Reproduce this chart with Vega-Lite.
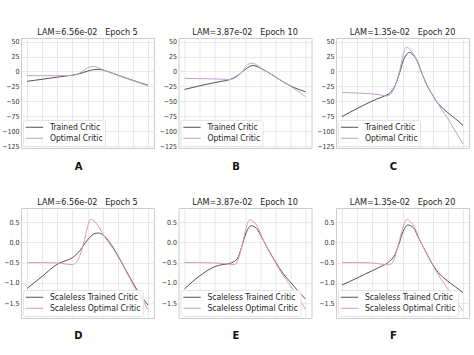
{
  "$schema": "https://vega.github.io/schema/vega-lite/v6.json",
  "background": "white",
  "padding": {"left": 1, "top": 27, "right": 0, "bottom": 0},
  "config": {
    "font": "DejaVu Sans Condensed, DejaVu Sans",
    "view": {"stroke": "#cccccc", "strokeWidth": 1},
    "axis": {"gridColor": "#e3e3e3", "gridWidth": 0.8, "domain": false, "ticks": false, "labelFontSize": 7, "labelColor": "#333333", "labelPadding": 2, "labelFont": "DejaVu Sans Condensed, DejaVu Sans"},
    "title": {"fontSize": 9, "fontWeight": "normal", "color": "#222222", "offset": 1, "font": "DejaVu Sans Condensed, DejaVu Sans"},
    "legend": {"labelFontSize": 8.5, "labelFont": "DejaVu Sans Condensed, DejaVu Sans", "symbolType": "stroke", "symbolStrokeWidth": 1, "symbolSize": 300, "padding": 2, "strokeColor": "#e4e4e4", "fillColor": "rgba(255,255,255,0.8)", "cornerRadius": 2, "rowPadding": 0, "offset": 2, "labelColor": "#222222", "labelOffset": 6, "clipHeight": 10.5}
  },
  "datasets": {
    "d": [
      {"p":"A","s":"Trained Critic","x":0,"y":-16.5},{"p":"A","s":"Trained Critic","x":0.5,"y":-14.8},{"p":"A","s":"Trained Critic","x":1,"y":-13},{"p":"A","s":"Trained Critic","x":1.5,"y":-11.2},{"p":"A","s":"Trained Critic","x":2,"y":-9.5},{"p":"A","s":"Trained Critic","x":2.5,"y":-7.8},{"p":"A","s":"Trained Critic","x":3,"y":-6.2},{"p":"A","s":"Trained Critic","x":3.5,"y":-3.5},{"p":"A","s":"Trained Critic","x":4,"y":0.5},{"p":"A","s":"Trained Critic","x":4.4,"y":3},{"p":"A","s":"Trained Critic","x":4.75,"y":3.5},{"p":"A","s":"Trained Critic","x":5,"y":2.5},{"p":"A","s":"Trained Critic","x":5.5,"y":-1.5},{"p":"A","s":"Trained Critic","x":6,"y":-6},{"p":"A","s":"Trained Critic","x":6.5,"y":-10.5},{"p":"A","s":"Trained Critic","x":7,"y":-14.8},{"p":"A","s":"Trained Critic","x":7.5,"y":-19},{"p":"A","s":"Trained Critic","x":8,"y":-23},
      {"p":"A","s":"Optimal Critic","x":0,"y":-7},{"p":"A","s":"Optimal Critic","x":1,"y":-7},{"p":"A","s":"Optimal Critic","x":2,"y":-7},{"p":"A","s":"Optimal Critic","x":2.5,"y":-7},{"p":"A","s":"Optimal Critic","x":3,"y":-6.5},{"p":"A","s":"Optimal Critic","x":3.5,"y":-2.5},{"p":"A","s":"Optimal Critic","x":3.8,"y":2.5},{"p":"A","s":"Optimal Critic","x":4.1,"y":7},{"p":"A","s":"Optimal Critic","x":4.4,"y":8.5},{"p":"A","s":"Optimal Critic","x":4.7,"y":6.5},{"p":"A","s":"Optimal Critic","x":5,"y":3},{"p":"A","s":"Optimal Critic","x":5.5,"y":-1.5},{"p":"A","s":"Optimal Critic","x":6,"y":-6.3},{"p":"A","s":"Optimal Critic","x":6.5,"y":-10.8},{"p":"A","s":"Optimal Critic","x":7,"y":-15.2},{"p":"A","s":"Optimal Critic","x":7.5,"y":-19.5},{"p":"A","s":"Optimal Critic","x":8,"y":-24},
      {"p":"B","s":"Trained Critic","x":0,"y":-30},{"p":"B","s":"Trained Critic","x":0.5,"y":-27},{"p":"B","s":"Trained Critic","x":1,"y":-24},{"p":"B","s":"Trained Critic","x":1.5,"y":-21.2},{"p":"B","s":"Trained Critic","x":2,"y":-18.6},{"p":"B","s":"Trained Critic","x":2.5,"y":-16.2},{"p":"B","s":"Trained Critic","x":3,"y":-13.5},{"p":"B","s":"Trained Critic","x":3.5,"y":-7},{"p":"B","s":"Trained Critic","x":3.8,"y":-1},{"p":"B","s":"Trained Critic","x":4.1,"y":5},{"p":"B","s":"Trained Critic","x":4.5,"y":10},{"p":"B","s":"Trained Critic","x":4.8,"y":8.5},{"p":"B","s":"Trained Critic","x":5,"y":6},{"p":"B","s":"Trained Critic","x":5.5,"y":-1},{"p":"B","s":"Trained Critic","x":6,"y":-9},{"p":"B","s":"Trained Critic","x":6.5,"y":-17},{"p":"B","s":"Trained Critic","x":7,"y":-24},{"p":"B","s":"Trained Critic","x":7.5,"y":-29.5},{"p":"B","s":"Trained Critic","x":8,"y":-34},
      {"p":"B","s":"Optimal Critic","x":0,"y":-11.5},{"p":"B","s":"Optimal Critic","x":1,"y":-12},{"p":"B","s":"Optimal Critic","x":2,"y":-12.5},{"p":"B","s":"Optimal Critic","x":2.5,"y":-13},{"p":"B","s":"Optimal Critic","x":3,"y":-13.5},{"p":"B","s":"Optimal Critic","x":3.5,"y":-8},{"p":"B","s":"Optimal Critic","x":3.8,"y":-1},{"p":"B","s":"Optimal Critic","x":4.1,"y":9},{"p":"B","s":"Optimal Critic","x":4.4,"y":14},{"p":"B","s":"Optimal Critic","x":4.7,"y":12},{"p":"B","s":"Optimal Critic","x":5,"y":6.5},{"p":"B","s":"Optimal Critic","x":5.5,"y":-1},{"p":"B","s":"Optimal Critic","x":6,"y":-9},{"p":"B","s":"Optimal Critic","x":6.5,"y":-17},{"p":"B","s":"Optimal Critic","x":7,"y":-24.5},{"p":"B","s":"Optimal Critic","x":7.5,"y":-33},{"p":"B","s":"Optimal Critic","x":8,"y":-42},
      {"p":"C","s":"Trained Critic","x":0,"y":-75.5},{"p":"C","s":"Trained Critic","x":0.5,"y":-68.5},{"p":"C","s":"Trained Critic","x":1,"y":-62},{"p":"C","s":"Trained Critic","x":1.5,"y":-55.5},{"p":"C","s":"Trained Critic","x":2,"y":-49.5},{"p":"C","s":"Trained Critic","x":2.5,"y":-44},{"p":"C","s":"Trained Critic","x":2.9,"y":-40},{"p":"C","s":"Trained Critic","x":3.2,"y":-35},{"p":"C","s":"Trained Critic","x":3.5,"y":-24},{"p":"C","s":"Trained Critic","x":3.8,"y":-3},{"p":"C","s":"Trained Critic","x":4.05,"y":18},{"p":"C","s":"Trained Critic","x":4.25,"y":28},{"p":"C","s":"Trained Critic","x":4.45,"y":32},{"p":"C","s":"Trained Critic","x":4.7,"y":28},{"p":"C","s":"Trained Critic","x":5,"y":16},{"p":"C","s":"Trained Critic","x":5.3,"y":-4},{"p":"C","s":"Trained Critic","x":5.6,"y":-22},{"p":"C","s":"Trained Critic","x":6,"y":-40},{"p":"C","s":"Trained Critic","x":6.3,"y":-52},{"p":"C","s":"Trained Critic","x":6.6,"y":-60},{"p":"C","s":"Trained Critic","x":7,"y":-69},{"p":"C","s":"Trained Critic","x":7.5,"y":-79},{"p":"C","s":"Trained Critic","x":8,"y":-90},
      {"p":"C","s":"Optimal Critic","x":0,"y":-35},{"p":"C","s":"Optimal Critic","x":1,"y":-36},{"p":"C","s":"Optimal Critic","x":2,"y":-37.5},{"p":"C","s":"Optimal Critic","x":2.5,"y":-39},{"p":"C","s":"Optimal Critic","x":2.9,"y":-41},{"p":"C","s":"Optimal Critic","x":3.2,"y":-38},{"p":"C","s":"Optimal Critic","x":3.5,"y":-25},{"p":"C","s":"Optimal Critic","x":3.8,"y":0},{"p":"C","s":"Optimal Critic","x":4.05,"y":28},{"p":"C","s":"Optimal Critic","x":4.25,"y":41},{"p":"C","s":"Optimal Critic","x":4.45,"y":38},{"p":"C","s":"Optimal Critic","x":4.7,"y":30},{"p":"C","s":"Optimal Critic","x":5,"y":16},{"p":"C","s":"Optimal Critic","x":5.3,"y":-4},{"p":"C","s":"Optimal Critic","x":5.6,"y":-22},{"p":"C","s":"Optimal Critic","x":6,"y":-40},{"p":"C","s":"Optimal Critic","x":6.3,"y":-52},{"p":"C","s":"Optimal Critic","x":6.6,"y":-64},{"p":"C","s":"Optimal Critic","x":7,"y":-79},{"p":"C","s":"Optimal Critic","x":7.5,"y":-100},{"p":"C","s":"Optimal Critic","x":8,"y":-121},
      {"p":"D","s":"Scaleless Trained Critic","x":0,"y":-1.14},{"p":"D","s":"Scaleless Trained Critic","x":0.5,"y":-0.99},{"p":"D","s":"Scaleless Trained Critic","x":1,"y":-0.84},{"p":"D","s":"Scaleless Trained Critic","x":1.5,"y":-0.68},{"p":"D","s":"Scaleless Trained Critic","x":2,"y":-0.54},{"p":"D","s":"Scaleless Trained Critic","x":2.5,"y":-0.46},{"p":"D","s":"Scaleless Trained Critic","x":3,"y":-0.38},{"p":"D","s":"Scaleless Trained Critic","x":3.5,"y":-0.2},{"p":"D","s":"Scaleless Trained Critic","x":4,"y":0.06},{"p":"D","s":"Scaleless Trained Critic","x":4.5,"y":0.22},{"p":"D","s":"Scaleless Trained Critic","x":4.75,"y":0.23},{"p":"D","s":"Scaleless Trained Critic","x":5,"y":0.19},{"p":"D","s":"Scaleless Trained Critic","x":5.5,"y":-0.02},{"p":"D","s":"Scaleless Trained Critic","x":6,"y":-0.32},{"p":"D","s":"Scaleless Trained Critic","x":6.5,"y":-0.66},{"p":"D","s":"Scaleless Trained Critic","x":7,"y":-1.0},{"p":"D","s":"Scaleless Trained Critic","x":7.5,"y":-1.3},{"p":"D","s":"Scaleless Trained Critic","x":8,"y":-1.55},
      {"p":"D","s":"Scaleless Optimal Critic","x":0,"y":-0.5},{"p":"D","s":"Scaleless Optimal Critic","x":1,"y":-0.5},{"p":"D","s":"Scaleless Optimal Critic","x":2,"y":-0.51},{"p":"D","s":"Scaleless Optimal Critic","x":2.5,"y":-0.53},{"p":"D","s":"Scaleless Optimal Critic","x":3,"y":-0.55},{"p":"D","s":"Scaleless Optimal Critic","x":3.25,"y":-0.5},{"p":"D","s":"Scaleless Optimal Critic","x":3.5,"y":-0.32},{"p":"D","s":"Scaleless Optimal Critic","x":3.75,"y":-0.02},{"p":"D","s":"Scaleless Optimal Critic","x":4,"y":0.38},{"p":"D","s":"Scaleless Optimal Critic","x":4.2,"y":0.57},{"p":"D","s":"Scaleless Optimal Critic","x":4.5,"y":0.5},{"p":"D","s":"Scaleless Optimal Critic","x":4.8,"y":0.36},{"p":"D","s":"Scaleless Optimal Critic","x":5.1,"y":0.15},{"p":"D","s":"Scaleless Optimal Critic","x":5.5,"y":-0.05},{"p":"D","s":"Scaleless Optimal Critic","x":6,"y":-0.34},{"p":"D","s":"Scaleless Optimal Critic","x":6.5,"y":-0.68},{"p":"D","s":"Scaleless Optimal Critic","x":7,"y":-1.03},{"p":"D","s":"Scaleless Optimal Critic","x":7.5,"y":-1.35},{"p":"D","s":"Scaleless Optimal Critic","x":8,"y":-1.66},
      {"p":"E","s":"Scaleless Trained Critic","x":0,"y":-1.15},{"p":"E","s":"Scaleless Trained Critic","x":0.5,"y":-0.98},{"p":"E","s":"Scaleless Trained Critic","x":1,"y":-0.83},{"p":"E","s":"Scaleless Trained Critic","x":1.5,"y":-0.7},{"p":"E","s":"Scaleless Trained Critic","x":2,"y":-0.6},{"p":"E","s":"Scaleless Trained Critic","x":2.5,"y":-0.55},{"p":"E","s":"Scaleless Trained Critic","x":3,"y":-0.52},{"p":"E","s":"Scaleless Trained Critic","x":3.5,"y":-0.4},{"p":"E","s":"Scaleless Trained Critic","x":3.75,"y":-0.15},{"p":"E","s":"Scaleless Trained Critic","x":4,"y":0.16},{"p":"E","s":"Scaleless Trained Critic","x":4.4,"y":0.41},{"p":"E","s":"Scaleless Trained Critic","x":4.75,"y":0.35},{"p":"E","s":"Scaleless Trained Critic","x":5,"y":0.2},{"p":"E","s":"Scaleless Trained Critic","x":5.5,"y":-0.15},{"p":"E","s":"Scaleless Trained Critic","x":6,"y":-0.47},{"p":"E","s":"Scaleless Trained Critic","x":6.5,"y":-0.76},{"p":"E","s":"Scaleless Trained Critic","x":7,"y":-0.98},{"p":"E","s":"Scaleless Trained Critic","x":7.5,"y":-1.2},{"p":"E","s":"Scaleless Trained Critic","x":8,"y":-1.4},
      {"p":"E","s":"Scaleless Optimal Critic","x":0,"y":-0.5},{"p":"E","s":"Scaleless Optimal Critic","x":1,"y":-0.5},{"p":"E","s":"Scaleless Optimal Critic","x":2,"y":-0.51},{"p":"E","s":"Scaleless Optimal Critic","x":3,"y":-0.54},{"p":"E","s":"Scaleless Optimal Critic","x":3.3,"y":-0.55},{"p":"E","s":"Scaleless Optimal Critic","x":3.55,"y":-0.42},{"p":"E","s":"Scaleless Optimal Critic","x":3.8,"y":-0.08},{"p":"E","s":"Scaleless Optimal Critic","x":4.05,"y":0.32},{"p":"E","s":"Scaleless Optimal Critic","x":4.3,"y":0.56},{"p":"E","s":"Scaleless Optimal Critic","x":4.5,"y":0.53},{"p":"E","s":"Scaleless Optimal Critic","x":4.8,"y":0.4},{"p":"E","s":"Scaleless Optimal Critic","x":5.1,"y":0.15},{"p":"E","s":"Scaleless Optimal Critic","x":5.5,"y":-0.16},{"p":"E","s":"Scaleless Optimal Critic","x":6,"y":-0.49},{"p":"E","s":"Scaleless Optimal Critic","x":6.5,"y":-0.8},{"p":"E","s":"Scaleless Optimal Critic","x":7,"y":-1.07},{"p":"E","s":"Scaleless Optimal Critic","x":7.5,"y":-1.34},{"p":"E","s":"Scaleless Optimal Critic","x":8,"y":-1.66},
      {"p":"F","s":"Scaleless Trained Critic","x":0,"y":-1.05},{"p":"F","s":"Scaleless Trained Critic","x":0.5,"y":-0.97},{"p":"F","s":"Scaleless Trained Critic","x":1,"y":-0.88},{"p":"F","s":"Scaleless Trained Critic","x":1.5,"y":-0.79},{"p":"F","s":"Scaleless Trained Critic","x":2,"y":-0.7},{"p":"F","s":"Scaleless Trained Critic","x":2.5,"y":-0.61},{"p":"F","s":"Scaleless Trained Critic","x":3,"y":-0.51},{"p":"F","s":"Scaleless Trained Critic","x":3.5,"y":-0.3},{"p":"F","s":"Scaleless Trained Critic","x":3.75,"y":-0.06},{"p":"F","s":"Scaleless Trained Critic","x":4,"y":0.23},{"p":"F","s":"Scaleless Trained Critic","x":4.35,"y":0.43},{"p":"F","s":"Scaleless Trained Critic","x":4.75,"y":0.35},{"p":"F","s":"Scaleless Trained Critic","x":5,"y":0.16},{"p":"F","s":"Scaleless Trained Critic","x":5.5,"y":-0.2},{"p":"F","s":"Scaleless Trained Critic","x":6,"y":-0.55},{"p":"F","s":"Scaleless Trained Critic","x":6.5,"y":-0.8},{"p":"F","s":"Scaleless Trained Critic","x":7,"y":-0.96},{"p":"F","s":"Scaleless Trained Critic","x":7.5,"y":-1.1},{"p":"F","s":"Scaleless Trained Critic","x":8,"y":-1.24},
      {"p":"F","s":"Scaleless Optimal Critic","x":0,"y":-0.5},{"p":"F","s":"Scaleless Optimal Critic","x":1,"y":-0.5},{"p":"F","s":"Scaleless Optimal Critic","x":2,"y":-0.51},{"p":"F","s":"Scaleless Optimal Critic","x":3,"y":-0.55},{"p":"F","s":"Scaleless Optimal Critic","x":3.2,"y":-0.54},{"p":"F","s":"Scaleless Optimal Critic","x":3.5,"y":-0.36},{"p":"F","s":"Scaleless Optimal Critic","x":3.75,"y":-0.02},{"p":"F","s":"Scaleless Optimal Critic","x":4,"y":0.34},{"p":"F","s":"Scaleless Optimal Critic","x":4.3,"y":0.57},{"p":"F","s":"Scaleless Optimal Critic","x":4.5,"y":0.52},{"p":"F","s":"Scaleless Optimal Critic","x":4.8,"y":0.37},{"p":"F","s":"Scaleless Optimal Critic","x":5.1,"y":0.1},{"p":"F","s":"Scaleless Optimal Critic","x":5.5,"y":-0.21},{"p":"F","s":"Scaleless Optimal Critic","x":6,"y":-0.57},{"p":"F","s":"Scaleless Optimal Critic","x":6.5,"y":-0.88},{"p":"F","s":"Scaleless Optimal Critic","x":7,"y":-1.15},{"p":"F","s":"Scaleless Optimal Critic","x":7.5,"y":-1.42},{"p":"F","s":"Scaleless Optimal Critic","x":8,"y":-1.7}
    ]
  },
  "data": {"name": "d"},
  "columns": 3,
  "spacing": {"row": 60, "column": 24.5},
  "bounds": "flush",
  "resolve": {"scale": {"x": "independent", "y": "independent", "color": "independent"}, "axis": {"x": "independent", "y": "independent"}, "legend": {"color": "independent"}},
  "concat": [
    {
      "width": 133, "height": 110,
      "title": "LAM=6.56e-02\u00a0\u00a0\u00a0Epoch 5",
      "transform": [{"filter": "datum.p == 'A'"}],
      "mark": {"type": "line", "strokeWidth": 1, "interpolate": "monotone"},
      "encoding": {
        "x": {"field": "x", "type": "quantitative", "scale": {"domain": [-0.4, 8.4], "nice": false, "zero": false}, "axis": {"title": "A", "labels": false, "values": [0,1,2,3,4,5,6,7,8], "titleX": 57, "titleY": 18, "titleBaseline": "middle", "titleAlign": "center", "titleFontWeight": "bold", "titleFontSize": 10, "titleColor": "#111111", "titleFont": "DejaVu Sans"}},
        "y": {"field": "y", "type": "quantitative", "scale": {"domain": [-128, 56], "nice": false, "zero": false}, "axis": {"title": null, "values": [-125,-100,-75,-50,-25,0,25,50]}},
        "color": {"field": "s", "type": "nominal", "sort": ["Trained Critic", "Optimal Critic"], "scale": {"domain": ["Trained Critic", "Optimal Critic"], "range": ["#4e4e5e", "#bca4c8"]}, "legend": {"orient": "bottom-left", "title": null}}
      }
    },
    {
      "width": 133, "height": 110,
      "title": "LAM=3.87e-02\u00a0\u00a0\u00a0Epoch 10",
      "transform": [{"filter": "datum.p == 'B'"}],
      "mark": {"type": "line", "strokeWidth": 1, "interpolate": "monotone"},
      "encoding": {
        "x": {"field": "x", "type": "quantitative", "scale": {"domain": [-0.4, 8.4], "nice": false, "zero": false}, "axis": {"title": "B", "labels": false, "values": [0,1,2,3,4,5,6,7,8], "titleX": 57, "titleY": 18, "titleBaseline": "middle", "titleAlign": "center", "titleFontWeight": "bold", "titleFontSize": 10, "titleColor": "#111111", "titleFont": "DejaVu Sans"}},
        "y": {"field": "y", "type": "quantitative", "scale": {"domain": [-128, 56], "nice": false, "zero": false}, "axis": {"title": null, "values": [-125,-100,-75,-50,-25,0,25,50]}},
        "color": {"field": "s", "type": "nominal", "sort": ["Trained Critic", "Optimal Critic"], "scale": {"domain": ["Trained Critic", "Optimal Critic"], "range": ["#4e4e5e", "#bca4c8"]}, "legend": {"orient": "bottom-left", "title": null}}
      }
    },
    {
      "width": 133, "height": 110,
      "title": "LAM=1.35e-02\u00a0\u00a0\u00a0Epoch 20",
      "transform": [{"filter": "datum.p == 'C'"}],
      "mark": {"type": "line", "strokeWidth": 1, "interpolate": "monotone"},
      "encoding": {
        "x": {"field": "x", "type": "quantitative", "scale": {"domain": [-0.4, 8.4], "nice": false, "zero": false}, "axis": {"title": "C", "labels": false, "values": [0,1,2,3,4,5,6,7,8], "titleX": 57, "titleY": 18, "titleBaseline": "middle", "titleAlign": "center", "titleFontWeight": "bold", "titleFontSize": 10, "titleColor": "#111111", "titleFont": "DejaVu Sans"}},
        "y": {"field": "y", "type": "quantitative", "scale": {"domain": [-128, 56], "nice": false, "zero": false}, "axis": {"title": null, "values": [-125,-100,-75,-50,-25,0,25,50]}},
        "color": {"field": "s", "type": "nominal", "sort": ["Trained Critic", "Optimal Critic"], "scale": {"domain": ["Trained Critic", "Optimal Critic"], "range": ["#4e4e5e", "#bca4c8"]}, "legend": {"orient": "bottom-left", "title": null}}
      }
    },
    {
      "width": 133, "height": 110,
      "title": "LAM=6.56e-02\u00a0\u00a0\u00a0Epoch 5",
      "transform": [{"filter": "datum.p == 'D'"}],
      "mark": {"type": "line", "strokeWidth": 1, "interpolate": "monotone"},
      "encoding": {
        "x": {"field": "x", "type": "quantitative", "scale": {"domain": [-0.4, 8.4], "nice": false, "zero": false}, "axis": {"title": "D", "labels": false, "values": [0,1,2,3,4,5,6,7,8], "titleX": 57, "titleY": 17, "titleBaseline": "middle", "titleAlign": "center", "titleFontWeight": "bold", "titleFontSize": 10, "titleColor": "#111111", "titleFont": "DejaVu Sans"}},
        "y": {"field": "y", "type": "quantitative", "scale": {"domain": [-1.87, 0.85], "nice": false, "zero": false}, "axis": {"title": null, "values": [-1.5,-1,-0.5,0,0.5], "format": ".1f"}},
        "color": {"field": "s", "type": "nominal", "sort": ["Scaleless Trained Critic", "Scaleless Optimal Critic"], "scale": {"domain": ["Scaleless Trained Critic", "Scaleless Optimal Critic"], "range": ["#5a4c5c", "#e699a8"]}, "legend": {"orient": "bottom-left", "title": null}}
      }
    },
    {
      "width": 133, "height": 110,
      "title": "LAM=3.87e-02\u00a0\u00a0\u00a0Epoch 10",
      "transform": [{"filter": "datum.p == 'E'"}],
      "mark": {"type": "line", "strokeWidth": 1, "interpolate": "monotone"},
      "encoding": {
        "x": {"field": "x", "type": "quantitative", "scale": {"domain": [-0.4, 8.4], "nice": false, "zero": false}, "axis": {"title": "E", "labels": false, "values": [0,1,2,3,4,5,6,7,8], "titleX": 57, "titleY": 17, "titleBaseline": "middle", "titleAlign": "center", "titleFontWeight": "bold", "titleFontSize": 10, "titleColor": "#111111", "titleFont": "DejaVu Sans"}},
        "y": {"field": "y", "type": "quantitative", "scale": {"domain": [-1.87, 0.85], "nice": false, "zero": false}, "axis": {"title": null, "values": [-1.5,-1,-0.5,0,0.5], "format": ".1f"}},
        "color": {"field": "s", "type": "nominal", "sort": ["Scaleless Trained Critic", "Scaleless Optimal Critic"], "scale": {"domain": ["Scaleless Trained Critic", "Scaleless Optimal Critic"], "range": ["#5a4c5c", "#e699a8"]}, "legend": {"orient": "bottom-left", "title": null}}
      }
    },
    {
      "width": 133, "height": 110,
      "title": "LAM=1.35e-02\u00a0\u00a0\u00a0Epoch 20",
      "transform": [{"filter": "datum.p == 'F'"}],
      "mark": {"type": "line", "strokeWidth": 1, "interpolate": "monotone"},
      "encoding": {
        "x": {"field": "x", "type": "quantitative", "scale": {"domain": [-0.4, 8.4], "nice": false, "zero": false}, "axis": {"title": "F", "labels": false, "values": [0,1,2,3,4,5,6,7,8], "titleX": 57, "titleY": 17, "titleBaseline": "middle", "titleAlign": "center", "titleFontWeight": "bold", "titleFontSize": 10, "titleColor": "#111111", "titleFont": "DejaVu Sans"}},
        "y": {"field": "y", "type": "quantitative", "scale": {"domain": [-1.87, 0.85], "nice": false, "zero": false}, "axis": {"title": null, "values": [-1.5,-1,-0.5,0,0.5], "format": ".1f"}},
        "color": {"field": "s", "type": "nominal", "sort": ["Scaleless Trained Critic", "Scaleless Optimal Critic"], "scale": {"domain": ["Scaleless Trained Critic", "Scaleless Optimal Critic"], "range": ["#5a4c5c", "#e699a8"]}, "legend": {"orient": "bottom-left", "title": null}}
      }
    }
  ]
}
